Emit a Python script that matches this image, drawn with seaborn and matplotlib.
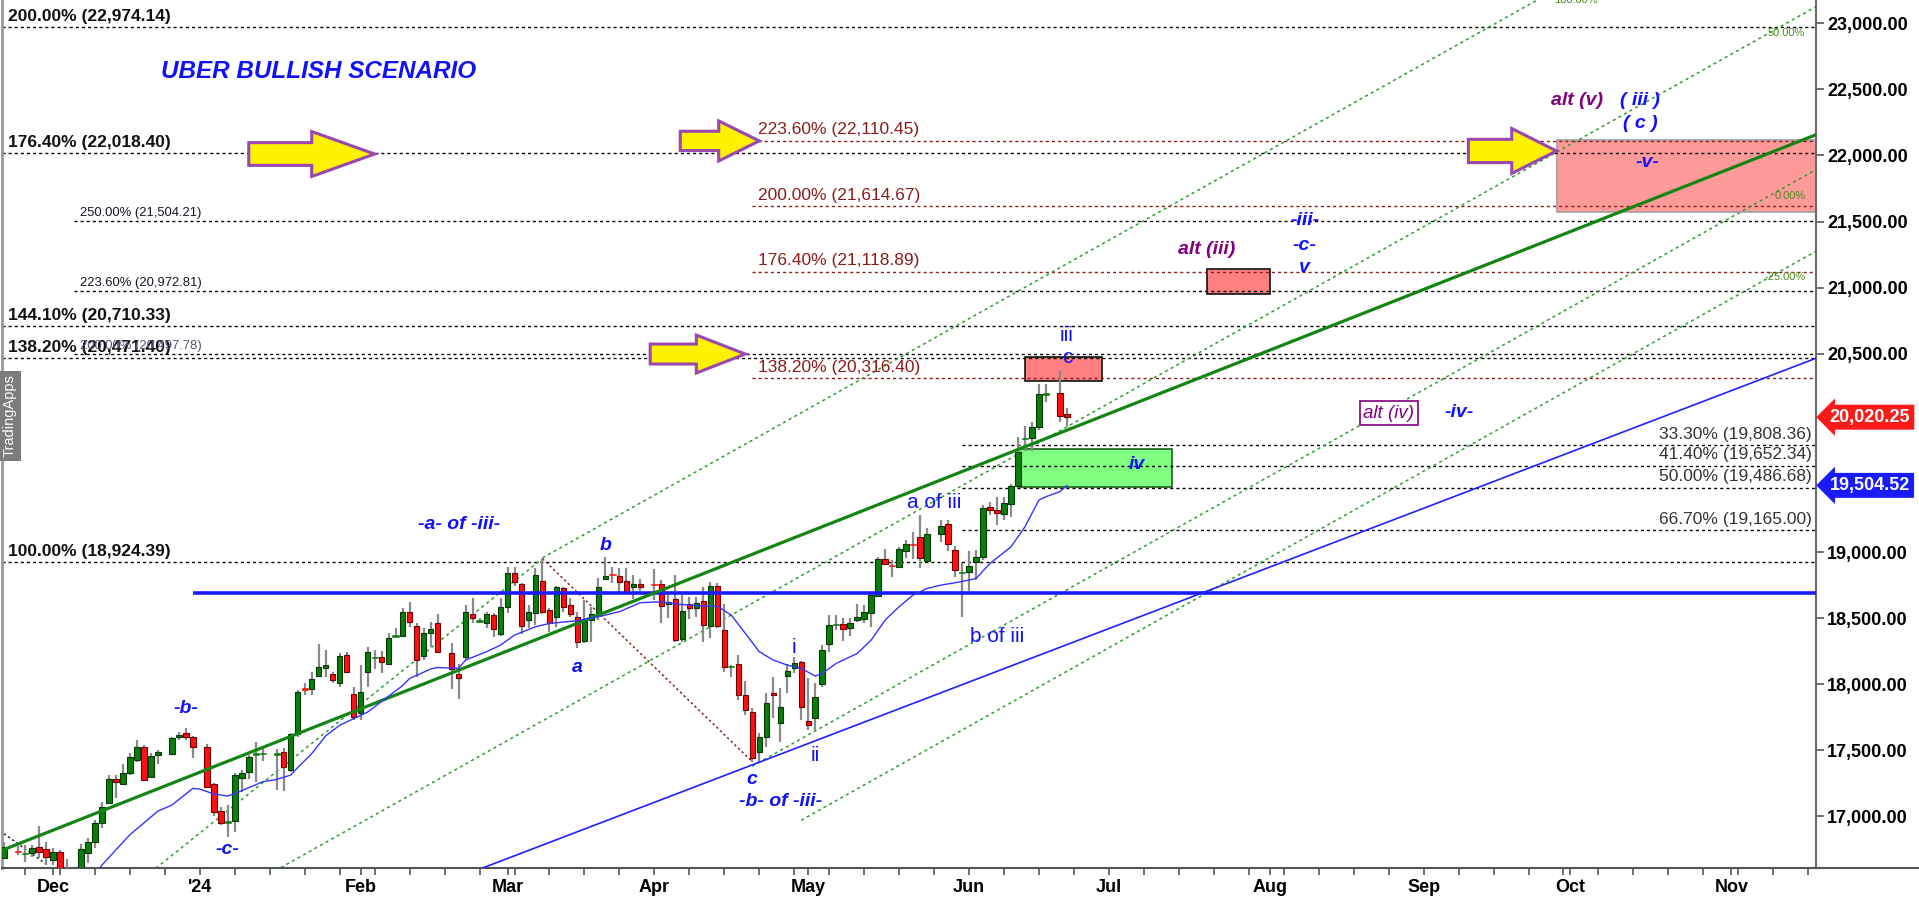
#! /usr/bin/env python3

import numpy as np
import pandas as pd
import matplotlib
matplotlib.use('Agg')
import matplotlib.pyplot as plt
import seaborn as sns
from matplotlib.patches import Rectangle, FancyArrow
from matplotlib.lines import Line2D
from matplotlib.ticker import MultipleLocator, FixedLocator, FuncFormatter

# ---------------- values ----------------
first_day = '2023-11-22'
last_day = '2024-06-21'
axis_end = '2024-11-20'
holidays = ['2023-11-23', '2023-12-25', '2024-01-01', '2024-01-15',
            '2024-02-19', '2024-03-29', '2024-05-27', '2024-06-19']

# daily bars, Nov-22 .. Jun-21 (trading days only)
opens = [16683, 16750, 16721, 16721, 16766, 16751,
         16670, 16733, 16580, 16590, 16590, 16727, 16809, 16953, 17099, 17280, 17243, 17326, 17427, 17528,
         17296, 17464, 17469, 17598, 17628, 17598,
         17523, 17245, 17043, 16960, 16968, 17288, 17333, 17472, 17477, 17472, 17487, 17351, 17621, 17972,
         17966, 18062, 18120, 18075, 18007, 18218, 17926,
         17780, 18090, 18203, 18203, 18153, 18367, 18367, 18543, 18440, 18213, 18385, 18460, 18233, 18077,
         18208, 18528, 18480, 18460, 18523, 18377,
         18581, 18844, 18755, 18485, 18541, 18783, 18561, 18506, 18725, 18599, 18506, 18329, 18485, 18523,
         18793, 18840, 18821, 18783, 18733, 18758,
         18765, 18758, 18607, 18642, 18340, 18607, 18574, 18632, 18440, 18743, 18410, 18133, 18153, 17918,
         17787, 17490, 17603, 17936, 17704, 18062, 18120, 18171,
         17721, 17742, 18002, 18304, 18453, 18453, 18423, 18486, 18491, 18536, 18667, 18947, 18902, 18889,
         19010, 19060, 19116, 18935, 19134, 19209, 19015, 18846,
         18846, 18922, 18960, 19343, 19318, 19285, 19363, 19500, 19860, 19860, 19943, 20195, 20201, 20042]
highs = [16810, 16775, 16784, 16784, 16927, 16809,
         16758, 16745, 16675, 16612, 16790, 16834, 16974, 17112, 17313, 17313, 17396, 17477, 17578, 17540,
         17477, 17502, 17603, 17641, 17666, 17608,
         17548, 17255, 17070, 17086, 17326, 17351, 17465, 17565, 17515, 17510, 17515, 17628, 17956, 18006,
         18095, 18304, 18258, 18095, 18233, 18246, 17982,
         18146, 18279, 18258, 18254, 18390, 18422, 18574, 18624, 18460, 18423, 18473, 18531, 18309, 18153,
         18599, 18649, 18498, 18549, 18536, 18649,
         18884, 18884, 18763, 18599, 18876, 18950, 18574, 18743, 18738, 18649, 18549, 18637, 18586, 18801,
         18965, 18884, 18876, 18876, 18826, 18793,
         18869, 18788, 18675, 18826, 18675, 18662, 18662, 18733, 18776, 18768, 18607, 18145, 18221, 18027,
         17817, 17628, 17931, 18052, 17969, 18153, 18208, 18178,
         18045, 18007, 18297, 18524, 18524, 18498, 18498, 18607, 18599, 18687, 18960, 19020, 18940, 19035,
         19091, 19149, 19280, 19179, 19242, 19242, 19045, 18919,
         19010, 19015, 19356, 19381, 19414, 19419, 19515, 19868, 19953, 19986, 20271, 20271, 20369, 20087]
lows = [16675, 16708, 16658, 16695, 16683, 16632,
        16632, 16520, 16540, 16500, 16580, 16650, 16758, 16910, 17099, 17137, 17238, 17313, 17414, 17270,
        17288, 17396, 17464, 17578, 17578, 17440,
        17212, 17000, 16935, 16842, 16885, 17187, 17280, 17263, 17420, 17200, 17195, 17340, 17603, 17919,
        17919, 18057, 18057, 18007, 17982, 18082, 17729,
        17729, 17982, 18115, 18082, 18145, 18360, 18354, 18435, 18057, 18183, 18284, 18233, 17961, 17885,
        18183, 18460, 18465, 18423, 18360, 18365,
        18541, 18743, 18380, 18423, 18448, 18531, 18397, 18430, 18549, 18511, 18271, 18314, 18322, 18485,
        18788, 18763, 18700, 18687, 18642, 18707,
        18637, 18465, 18498, 18322, 18322, 18490, 18511, 18322, 18347, 18422, 18095, 18057, 17880, 17767,
        17414, 17414, 17528, 17742, 17565, 17931, 18082, 17729,
        17653, 17653, 17982, 18246, 18410, 18329, 18365, 18473, 18466, 18430, 18662, 18900, 18808, 18877,
        18952, 18945, 18877, 18927, 19078, 19010, 18808, 18506,
        18708, 18788, 18940, 19280, 19204, 19242, 19262, 19494, 19767, 19767, 19923, 20138, 19986, 19953]
closes = [16766, 16736, 16722, 16758, 16733, 16695,
          16733, 16560, 16590, 16560, 16751, 16809, 16953, 17074, 17280, 17258, 17326, 17447, 17528, 17275,
          17459, 17485, 17591, 17616, 17598, 17528,
          17220, 17036, 16947, 16962, 17311, 17331, 17447, 17474, 17479, 17474, 17371, 17621, 17944, 17966,
          18037, 18128, 18143, 18029, 18213, 18095, 17749,
          17939, 18241, 18205, 18165, 18347, 18380, 18543, 18468, 18183, 18385, 18415, 18246, 18112, 18044,
          18549, 18498, 18482, 18531, 18415, 18587,
          18844, 18771, 18440, 18549, 18826, 18549, 18465, 18733, 18587, 18531, 18322, 18480, 18531, 18733,
          18818, 18830, 18771, 18700, 18758, 18733,
          18755, 18592, 18625, 18335, 18556, 18574, 18612, 18448, 18743, 18440, 18127, 18135, 17918, 17805,
          17439, 17603, 17860, 17918, 17825, 18102, 18158, 17825,
          17691, 17901, 18259, 18448, 18455, 18415, 18465, 18511, 18549, 18675, 18945, 18907, 18897, 19020,
          19058, 19056, 18952, 19134, 19197, 19061, 18864, 18848,
          18897, 18960, 19330, 19318, 19293, 19368, 19500, 19754, 19862, 19943, 20193, 20197, 20029, 20020.25]

# thin blue moving average, read at a number of dates
ma_dates = ['2023-12-11', '2023-12-12', '2023-12-18', '2023-12-22', '2023-12-26', '2023-12-29', '2024-01-01',
            '2024-01-03', '2024-01-05', '2024-01-09', '2024-01-11', '2024-01-12', '2024-01-16', '2024-01-18',
            '2024-01-19', '2024-01-23', '2024-01-25', '2024-01-29', '2024-01-31', '2024-02-02', '2024-02-06',
            '2024-02-09', '2024-02-12', '2024-02-15', '2024-02-16', '2024-02-21', '2024-02-22', '2024-02-27',
            '2024-02-29', '2024-03-04', '2024-03-07', '2024-03-11', '2024-03-15', '2024-03-20', '2024-03-25',
            '2024-03-28', '2024-04-02', '2024-04-04', '2024-04-10', '2024-04-12', '2024-04-16', '2024-04-18',
            '2024-04-22', '2024-04-24', '2024-04-26', '2024-04-30', '2024-05-02', '2024-05-03', '2024-05-07',
            '2024-05-10', '2024-05-14', '2024-05-16', '2024-05-20', '2024-05-22', '2024-05-24', '2024-05-28',
            '2024-05-30', '2024-06-03', '2024-06-04', '2024-06-06', '2024-06-11', '2024-06-13', '2024-06-17',
            '2024-06-18', '2024-06-20', '2024-06-21']
ma_values = [16560, 16632, 16862, 17040, 17086, 17212, 17207,
             17170, 17154, 17195, 17240, 17263, 17280, 17313,
             17370, 17475, 17610, 17690, 17740, 17790, 17870,
             17990, 18044, 18115, 18127, 18120, 18183, 18246,
             18296, 18372, 18435, 18460, 18481, 18511, 18549,
             18617, 18624, 18607, 18591, 18591, 18523, 18385,
             18246, 18183, 18145, 18120, 18062, 18082, 18158,
             18233, 18334, 18486, 18587, 18675, 18725, 18750,
             18768, 18788, 18801, 18914, 19040, 19192, 19394,
             19419, 19457, 19504.52]

# fibonacci levels
fib_main = [22974.14, 22018.40, 20710.33, 20471.40, 18924.39]
fib_main_pct = ['200.00%', '176.40%', '144.10%', '138.20%', '100.00%']
fib_small = [21504.21, 20972.81, 20497.78]
fib_small_pct = ['250.00%', '223.60%', '200.00%']
fib_small_start = '2023-12-06'
fib_ext = [22110.45, 21614.67, 21118.89, 20316.40]
fib_ext_pct = ['223.60%', '200.00%', '176.40%', '138.20%']
fib_ext_start = '2024-04-19'
fib_retr = [19808.36, 19652.34, 19486.68, 19165.00]
fib_retr_pct = ['33.30%', '41.40%', '50.00%', '66.70%']
fib_retr_start = '2024-05-31'

# drawn lines (anchor date, price)
blue_level = 18687
blue_level_start = '2023-12-29'
green_trend = [('2023-11-22', 16750), ('2024-06-21', 19922)]
blue_trend = [('2024-04-19', 17390), ('2024-06-21', 18300)]
steep_dotted = [('2023-12-21', 16578), ('2024-03-08', 18950)]
brown_dotted = [('2024-03-08', 18950), ('2024-04-19', 17414)]
black_dotted = [('2023-11-22', 16870), ('2023-11-30', 16640)]

# pitchfork-style channel: 0% line anchors, width of 100%, level starts
channel_base = [('2024-04-19', 17380), ('2024-06-21', 18715)]
channel_width = 2466
channel_levels = [1.0, 0.5, 0.0, -0.25]
channel_labels = ['100.00%', '50.00%', '0.00%', '-25.00%']
channel_starts = ['2024-03-08', first_day, '2024-04-19', '2024-04-30']

# zones: start, end, low, high, face, edge
boxes = [('2024-09-27', axis_end, 21572, 22117, '#ff9a9a', '#a0a0a0'),
         ('2024-07-19', '2024-08-01', 20952, 21141, '#ff8080', '#111111'),
         ('2024-06-13', '2024-06-28', 20296, 20478, '#ff8080', '#111111'),
         ('2024-06-12', '2024-07-12', 19492, 19779, '#80ff80', '#1d5e1d')]

# arrows: tip date, tip price, length, head length (days), head height, shaft height (points of price)
arrows = [('2024-02-05', 22011, 18, 9, 340, 172),
          ('2024-04-22', 22110, 11.3, 5.8, 303, 146),
          ('2024-04-18', 20498, 13.6, 7, 287, 151),
          ('2024-09-27', 22034, 12.6, 6.4, 340, 176)]

# wave labels: text, date, price, style
waves = [('UBER BULLISH SCENARIO', '2024-01-24', 22632, 'title'),
         ('-b-', '2023-12-28', 17820, 'it'),
         ('-c-', '2024-01-05', 16752, 'it'),
         ('-a- of -iii-', '2024-02-21', 19205, 'it'),
         ('b', '2024-03-21', 19053, 'it'),
         ('a', '2024-03-15', 18130, 'it'),
         ('c', '2024-04-19', 17282, 'it'),
         ('-b- of -iii-', '2024-04-25', 17114, 'it'),
         ('i', '2024-04-29', 18280, 'up'),
         ('ii', '2024-05-02', 17463, 'up'),
         ('a of iii', '2024-05-27', 19378, 'up'),
         ('b of iii', '2024-06-07', 18360, 'up'),
         ('iii', '2024-06-21', 20636, 'up'),
         ('c', '2024-06-21', 20470, 'up'),
         ('iv', '2024-07-05', 19659, 'it'),
         ('alt (iii)', '2024-07-19', 21285, 'alt'),
         ('-iii-', '2024-08-08', 21511, 'it'),
         ('-c-', '2024-08-08', 21322, 'it'),
         ('v', '2024-08-08', 21156, 'it'),
         ('alt (iv)', '2024-08-26', 20051, 'altbox'),
         ('-iv-', '2024-09-09', 20058, 'it'),
         ('alt (v)', '2024-10-02', 22419, 'alt'),
         ('( iii )', '2024-10-15', 22419, 'it'),
         ('( c )', '2024-10-15', 22245, 'it'),
         ('-v-', '2024-10-16', 21943, 'it')]

# ---------------- setup ----------------
sns.set_theme(style='white')
plt.rcParams['font.family'] = ['Liberation Sans', 'DejaVu Sans']

BLUE = '#1010ff'
PURPLE = '#800080'
BROWN = '#8b1c1c'

days = pd.bdate_range(first_day, axis_end)
slot = pd.Series(np.arange(len(days)), index=days)


def pos(d):
    return float(slot[pd.Timestamp(d)])


trade_days = [d for d in pd.bdate_range(first_day, last_day) if d not in pd.to_datetime(holidays)]
bars = pd.DataFrame({'date': trade_days, 'open': opens, 'high': highs, 'low': lows, 'close': closes})
bars['x'] = slot[bars['date']].values

x_left = pos(first_day) - 0.3
x_right = pos(axis_end) - 0.9
y_low, y_high = 16610, 23176

fig = plt.figure(figsize=(19.19, 8.98), dpi=100)
ax = fig.add_axes([0.001, 0.0334, 0.9453, 0.9666])
ax.set_facecolor('white')

# ---------------- zones ----------------
for start, end, lo, hi, fc, ec in boxes:
    x0 = pos(start)
    x1 = x_right if end == axis_end else pos(end)
    ax.add_patch(Rectangle((x0, lo), x1 - x0, hi - lo, facecolor=fc, edgecolor=ec, lw=1.2, zorder=1))

# ---------------- fibonacci levels ----------------
dash = (0, (2.2, 2.2))
ax.hlines(fib_main, x_left, x_right, colors='black', lw=1.0, linestyles=dash, zorder=2)
for lvl, pct in zip(fib_main, fib_main_pct):
    ax.annotate(f'{pct} ({lvl:,.2f})', xy=(x_left, lvl), xytext=(4.5, 2), textcoords='offset points',
                ha='left', va='bottom', fontsize=12.5, fontweight='bold', color='#111111', zorder=7)

ax.hlines(fib_small, pos(fib_small_start), x_right, colors='black', lw=1.0, linestyles=dash, zorder=2)
for lvl, pct in zip(fib_small, fib_small_pct):
    col = '#555577' if lvl == fib_small[-1] else '#15152a'
    ax.annotate(f'{pct} ({lvl:,.2f})', xy=(pos(fib_small_start), lvl), xytext=(4, 1.5),
                textcoords='offset points', ha='left', va='bottom', fontsize=9.4, color=col, zorder=7)

ax.hlines(fib_ext, pos(fib_ext_start), x_right, colors=BROWN, lw=1.0, linestyles=dash, zorder=2)
for lvl, pct in zip(fib_ext, fib_ext_pct):
    ax.annotate(f'{pct} ({lvl:,.2f})', xy=(pos(fib_ext_start), lvl), xytext=(4, 2.5),
                textcoords='offset points', ha='left', va='bottom', fontsize=12.5, color=BROWN, zorder=7)

ax.hlines(fib_retr, pos(fib_retr_start), x_right, colors='black', lw=1.0, linestyles=dash, zorder=2)
for lvl, pct in zip(fib_retr, fib_retr_pct):
    ax.annotate(f'{pct} ({lvl:,.2f})', xy=(x_right, lvl), xytext=(-3, 2.5), textcoords='offset points',
                ha='right', va='bottom', fontsize=12.5, color='#333333', zorder=7)

# ---------------- channel lines ----------------
(c0d, c0p), (c1d, c1p) = channel_base
ch_slope = (c1p - c0p) / (pos(c1d) - pos(c0d))
for lvl, lab, sd in zip(channel_levels, channel_labels, channel_starts):
    p0 = c0p + lvl * channel_width
    xs = [pos(sd), x_right]
    ys = [p0 + ch_slope * (x - pos(c0d)) for x in xs]
    ax.plot(xs, ys, color='#2e9e2e', lw=1.1, ls=(0, (2, 2.2)), zorder=2)
    if ys[1] > y_high:
        x_top = pos(c0d) + (y_high - p0) / ch_slope
        ax.text(x_top + 5.5, y_high, lab, ha='center', va='center', fontsize=8, color='#4d8a1f', zorder=7)
    else:
        ax.annotate(lab, xy=(x_right - 1.5, ys[1]), xytext=(0, -15), textcoords='offset points',
                    ha='right', va='top', fontsize=8, color='#4d8a1f', zorder=7)

for seg, col, ls in [(steep_dotted, '#2e9e2e', (0, (2, 2.2))),
                     (brown_dotted, '#8b1c1c', (0, (1.5, 1.8))),
                     (black_dotted, '#222222', (0, (1.5, 1.8)))]:
    ax.plot([pos(d) for d, _ in seg], [p for _, p in seg], color=col, lw=1.1, ls=ls, zorder=2)

# ---------------- trend lines ----------------
ax.hlines(blue_level, pos(blue_level_start), x_right, colors='#1a1aff', lw=2.6, zorder=5)
(g0d, g0p), (g1d, g1p) = green_trend
ax.axline((pos(g0d), g0p), (pos(g1d), g1p), color='#148414', lw=2.3, zorder=5)
(b0d, b0p), (b1d, b1p) = blue_trend
ax.axline((pos(b0d), b0p), (pos(b1d), b1p), color='#2020ff', lw=1.2, zorder=5)

# ---------------- candles ----------------
o, c = bars['open'].values, bars['close'].values
body_lo = np.minimum(o, c)
body_h = np.abs(c - o)
up = c >= o
doji = body_h < 15
ax.vlines(bars['x'], bars['low'], bars['high'], color='#8a8a8a', lw=1.6, zorder=3)
for mask, fc, ec in [(up & ~doji, '#0a7d0a', '#053805'), (~up & ~doji, '#ff1010', '#6e0000')]:
    ax.bar(bars['x'][mask], body_h[mask], bottom=body_lo[mask], width=0.78,
           color=fc, edgecolor=ec, lw=0.8, zorder=4)
for mask, fc in [(up & doji, '#0a7d0a'), (~up & doji, '#ff1010')]:
    ax.bar(bars['x'][mask], 12, bottom=body_lo[mask] - 6, width=0.9, color=fc, edgecolor=fc, lw=0.4, zorder=4)

# moving average
ma = pd.DataFrame({'x': [pos(d) for d in ma_dates], 'ma': ma_values})
sns.lineplot(data=ma, x='x', y='ma', ax=ax, color='#3535ff', lw=1.0, estimator=None, sort=False, zorder=5)

# ---------------- arrows ----------------
for tip_d, tip_p, length, head_len, head_h, shaft_h in arrows:
    tip = pos(tip_d)
    ax.add_patch(FancyArrow(tip - length, tip_p, length, 0, width=shaft_h, head_width=head_h,
                            head_length=head_len, length_includes_head=True,
                            facecolor='#fff200', edgecolor='#9a48b0', lw=2.2, zorder=6))

# ---------------- wave labels ----------------
styles = {'title': dict(color=BLUE, fontsize=17.5, fontweight='bold', fontstyle='italic'),
          'it': dict(color=BLUE, fontsize=14, fontweight='bold', fontstyle='italic'),
          'up': dict(color=BLUE, fontsize=15),
          'alt': dict(color=PURPLE, fontsize=14, fontweight='bold', fontstyle='italic'),
          'altbox': dict(color=PURPLE, fontsize=13.5, fontstyle='italic',
                         bbox=dict(boxstyle='square,pad=0.18', fc='white', ec=PURPLE, lw=1.2))}
for txt, d, p, st in waves:
    ax.text(pos(d), p, txt, ha='center', va='center', zorder=8, **styles[st])

# ---------------- price tags ----------------
tags = [(closes[-1], '#ff1a1a'), (ma_values[-1], '#1a1aff')]
for val, col in tags:
    ax.annotate(f'{val:,.2f}', xy=(1, val), xycoords=('axes fraction', 'data'), xytext=(10, 0),
                textcoords='offset points', ha='left', va='center', color='white', fontsize=13,
                fontweight='bold', annotation_clip=False, zorder=9,
                bbox=dict(boxstyle='larrow,pad=0.22', fc=col, ec='none'))

# ---------------- axes ----------------
ax.set_xlim(x_left, x_right)
ax.set_ylim(y_low, y_high)
ax.set_xlabel('')
ax.set_ylabel('')
ax.yaxis.tick_right()
ax.yaxis.set_major_locator(MultipleLocator(500))
ax.yaxis.set_major_formatter(FuncFormatter(lambda v, p: f'{v:,.2f}'))

month_first = days.to_series().groupby(days.to_period('M')).first()
month_first = month_first[month_first >= pd.Timestamp('2023-12-01')]
ax.xaxis.set_major_locator(FixedLocator([pos(d) for d in month_first]))
ax.set_xticklabels(["'24" if (d.month == 1) else d.strftime('%b') for d in month_first])
mondays = days[days.weekday == 0]
ax.xaxis.set_minor_locator(FixedLocator([pos(d) for d in mondays]))

ax.tick_params(axis='x', which='both', bottom=True, length=5, width=1.2, color='#555555',
               direction='out', labelsize=13, pad=3, labelcolor='black')
ax.tick_params(axis='y', which='major', right=True, left=False, length=6, width=1.2, color='#555555',
               direction='out', labelsize=13, pad=2, labelcolor='black')
for t in ax.get_xticklabels() + ax.get_yticklabels():
    t.set_fontweight('bold')

# the price tags sit on top of the nearest round-number labels, as on the original
fig.canvas.draw()
for tick in ax.yaxis.get_major_ticks():
    if any(abs(tick.get_loc() - val) < 150 for val, _ in tags):
        tick.label2.set_visible(False)
        tick.tick2line.set_visible(False)

ax.spines['top'].set_visible(False)
for side, col, lw in [('left', '#9a9a9a', 2.0), ('right', '#6a6a6a', 1.5), ('bottom', '#555555', 1.5)]:
    ax.spines[side].set_color(col)
    ax.spines[side].set_linewidth(lw)
    ax.spines[side].set_visible(True)
fig.add_artist(Line2D([0.946, 1.0], [0.0334, 0.0334], color='#555555', lw=1.5))

fig.text(0.0052, 0.537, 'TradingApps', rotation=90, ha='center', va='center', color='white',
         fontsize=10.5, bbox=dict(boxstyle='square,pad=0.25', fc='#7c7c7c', ec='none'))

fig.savefig('out.png', dpi=100, facecolor='white')
